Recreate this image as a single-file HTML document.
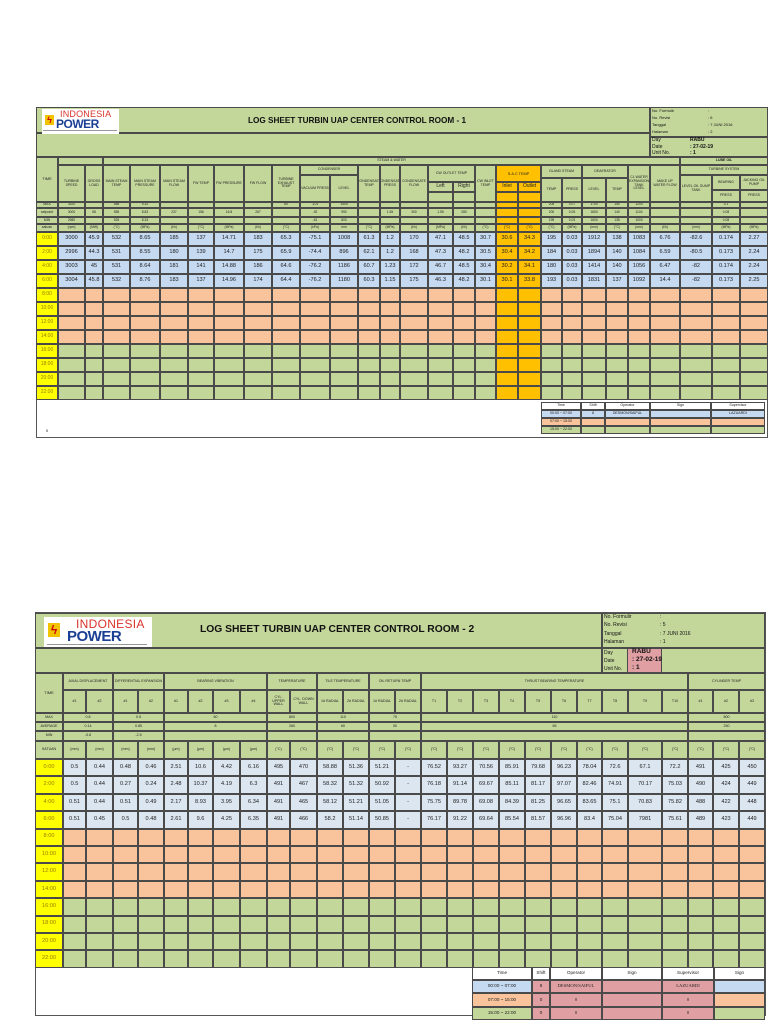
<!DOCTYPE html>
<html><head><meta charset="utf-8">
<style>
body{margin:0;width:768px;height:1024px;background:#fff;position:relative;overflow:hidden;font-family:"Liberation Sans",sans-serif;}
.c{position:absolute;box-sizing:border-box;border:0.6px solid #4a4a4a;display:flex;align-items:center;justify-content:center;text-align:center;line-height:1.05;color:#222;overflow:hidden;}
.t{position:absolute;white-space:nowrap;color:#111;}
.logo{position:absolute;background:#fff;}
</style></head><body>
<div class="c" style="left:36px;top:107px;width:732px;height:331px;background:#fff;border:1px solid #555"></div>
<div class="c" style="left:35px;top:612px;width:731px;height:404px;background:#fff;border:1px solid #555"></div>
<div id="root"></div>

<div class="logo" style="left:42px;top:109px;width:77px;height:25px">
 <div style="position:absolute;left:3px;top:6px;width:9px;height:10px;background:#f2c300;color:#c00;font-size:9px;font-weight:bold;line-height:10px;text-align:center">ϟ</div>
 <div style="position:absolute;left:18px;top:0px;font-size:9px;color:#d9342b;letter-spacing:0.2px">INDONESIA</div>
 <div style="position:absolute;left:14px;top:8px;font-size:12px;font-weight:bold;color:#1b3f94;letter-spacing:-0.5px">POWER</div>
 <div style="position:absolute;left:1px;top:21px;width:74px;height:1px;background:#999"></div>
</div>
<div class="logo" style="left:44px;top:617px;width:108px;height:30px">
 <div style="position:absolute;left:4px;top:6px;width:12px;height:14px;background:#f2c300;color:#c00;font-size:12px;font-weight:bold;line-height:14px;text-align:center">ϟ</div>
 <div style="position:absolute;left:32px;top:0px;font-size:12px;color:#d9342b;letter-spacing:0.3px">INDONESIA</div>
 <div style="position:absolute;left:23px;top:11px;font-size:15px;font-weight:bold;color:#1b3f94;letter-spacing:-0.5px">POWER</div>
 <div style="position:absolute;left:3px;top:27px;width:100px;height:1px;background:#999"></div>
</div>

<script>
const times = ['0:00','2:00','4:00','6:00','8:00','10:00','12:00','14:00','16:00','18:00','20:00','22:00'];
const sheet1Row0 = ['3000','45.9','532','8.65','185','137','14.71','183','65.3','-75.1','1008','61.3','1.2','170','47.1','48.5','30.7','30.6','34.3','195','0.03','1912','138','1083','6.76','-82.6','0.174','2.27'];
const sheet1Row2 = ['2996','44.3','531','8.55','180','139','14.7','175','65.9','-74.4','896','62.1','1.2','168','47.3','48.2','30.5','30.4','34.2','184','0.03','1894','140','1084','6.59','-80.5','0.173','2.24'];
const sheet1Row4 = ['3003','45','531','8.64','181','141','14.88','186','64.6','-76.2','1186','60.7','1.23','172','46.7','48.5','30.4','30.2','34.1','180','0.03','1414','140','1056','6.47','-82','0.174','2.24'];
const sheet1Row6 = ['3004','45.8','532','8.76','183','137','14.96','174','64.4','-76.2','1180','60.3','1.15','175','46.3','48.2','30.1','30.1','33.8','193','0.03','1831','137','1092','14.4','-82','0.173','2.25'];
const sheet1Max = ['3320','','566','9.32','','','','','80','-101','1500','','','','','','','','','205','0.07','1700','150','1200','','','0.1',''];
const sheet1Set = ['3000','58','555','8.83','237','156','16.8','267','','-92','950','','1.55','300','1.55','280','','','','200','0.05','1650','140','1100','','','0.08',''];
const sheet1Min = ['2980','','525','8.33','','','','','','-61','800','','','','','','','','','195','0.03','1600','135','1000','','','0.08',''];
const sheet1Units = ['(rpm)','(MW)','(°C)','(MPa)','(t/h)','(°C)','(MPa)','(t/h)','(°C)','(kPa)','mm','(°C)','(MPa)','(t/h)','(MPa)','(t/h)','(°C)','(°C)','(°C)','(°C)','(MPa)','(mm)','(°C)','(mm)','(t/h)','(mm)','(MPa)','(MPa)'];
const sheet2Row0 = ['0.5','0.44','0.48','0.46','2.51','10.6','4.42','6.16','495','470','58.88','51.36','51.21','-','76.52','93.27','70.56','85.91','79.68','96.23','78.04','72.6','67.1','72.2','491','425','450'];
const sheet2Row2 = ['0.5','0.44','0.27','0.24','2.48','10.37','4.19','6.3','491','467','58.32','51.32','50.92','-','76.18','91.14','69.67','85.11','81.17','97.07','82.46','74.91','70.17','75.03','490','424','449'];
const sheet2Row4 = ['0.51','0.44','0.51','0.49','2.17','8.93','3.95','6.34','491','465','58.12','51.21','51.05','-','75.75','89.78','69.08','84.39','81.25','96.65','83.65','75.1','70.83','75.82','488','422','448'];
const sheet2Row6 = ['0.51','0.45','0.5','0.48','2.61','9.6','4.25','6.35','491','466','58.2','51.14','50.85','-','76.17','91.22','69.64','85.54','81.57','96.96','83.4','75.04','7981','75.61','489','423','449'];
const sheet2Units = ['(mm)','(mm)','(mm)','(mm)','(μm)','(μm)','(μm)','(μm)','(°C)','(°C)','(°C)','(°C)','(°C)','(°C)','(°C)','(°C)','(°C)','(°C)','(°C)','(°C)','(°C)','(°C)','(°C)','(°C)','(°C)','(°C)','(°C)'];

const G='#c4d79b',B='#c5d9f1',B2='#dce6f1',O='#f9c49b',Y='#ffff00',S='#ffc000',P='#e0a0a3',W='#ffffff';
const root=document.getElementById('root');
function cell(x1,y1,x2,y2,txt,bg,fs,name,extra){
  const el=document.createElement('div');
  el.className='c';
  el.style.cssText='left:'+x1+'px;top:'+y1+'px;width:'+(x2-x1)+'px;height:'+(y2-y1)+'px;background:'+bg+';font-size:'+fs+'px;'+(extra||'');
  el.textContent=txt;
  
  
  root.appendChild(el);
  return el;
}
function text(x,y,txt,fs,name,extra){
  const el=document.createElement('div');
  el.className='t';
  el.style.cssText='left:'+x+'px;top:'+y+'px;font-size:'+fs+'px;'+(extra||'');
  el.textContent=txt;
  
  
  root.appendChild(el);
}

/* ---------- SHEET 1 ---------- */
const c1=[36,58,85,103,130,160,188,214,244,272,300,330,358,380,400,428,453,475,496,518,541,562,582,606,628,650,680,712,740,768];
cell(36,107,650,133,'',G,4,'sheet1-title-band');
cell(650,107,768,137,'',G,4,'sheet1-doc-info');
cell(36,133,650,157,'',G,4,'sheet1-blank-band');
cell(650,137,768,157,'',G,4,'sheet1-day-info');
text(248,116,'LOG SHEET TURBIN UAP CENTER CONTROL ROOM - 1',8.2,'sheet1-title','font-weight:bold');
[['No. Formulir',':'],['No. Revisi',': 6'],['Tanggal',': 7 JUNI 2016'],['Halaman',': 2']].forEach((r,i)=>{text(652,108+i*7,r[0],4,'sheet1-info-label');text(708,108+i*7,r[1],4,'sheet1-info-value');});
[['Day','RABU'],['Date',': 27-02-19'],['Unit No.',': 1']].forEach((r,i)=>{text(652,137+i*6.5,r[0],5,'sheet1-day-label');text(690,137+i*6.5,r[1],5,'sheet1-day-value','font-weight:bold');});
const hdr1=['TURBINE SPEED','GROSS LOAD','MAIN STEAM TEMP','MAIN STEAM PRESSURE','MAIN STEAM FLOW','FW TEMP','FW PRESSURE','FW FLOW','TURBINE EXHAUST TEMP','VACUUM PRESS','LEVEL','CONDENSATE TEMP','CONDENSATE PRESS','CONDENSATE FLOW','Left','Right','CW INLET TEMP','Inlet','Outlet','TEMP','PRESS','LEVEL','TEMP','CL WATER EXPANSION TANK LEVEL','MAKE UP WATER FLOW','LEVEL OIL SUMP TANK','BEARING','JACKING OIL PUMP'];
cell(36,157,58,202,'TIME',G,4,'sheet1-time-header');
cell(58,157,103,165,'',G,4,'sheet1-group-header');
cell(103,157,680,165,'STEAM & WATER',G,3.5,'sheet1-steam-water-header');
cell(680,157,768,165,'LUBE OIL',G,3.5,'sheet1-lube-oil-header','font-weight:bold');
cell(680,165,768,175,'TURBINE SYSTEM',G,3.5,'sheet1-turbine-system-header');
cell(300,165,358,175,'CONDENSER',G,3.5,'sheet1-condenser-header');
cell(428,165,475,182,'CW OUTLET TEMP',G,3.5,'sheet1-cw-outlet-header');
cell(496,165,541,182,'S.A.C   TEMP',S,3.8,'sheet1-sac-header');
cell(541,165,582,178,'GLAND STEAM',G,3.5,'sheet1-gland-header');
cell(582,165,628,178,'DEAERATOR',G,3.5,'sheet1-deaerator-header');
for(let i=0;i<28;i++){
  const x1=c1[i+1],x2=c1[i+2];
  let y1=165,y2=202,bg=G,fs=3.5;
  if(i>=9&&i<=10) y1=175;
  if(i>=14&&i<=15){y1=182;y2=192;fs=5;}
  if(i>=17&&i<=18){y1=182;y2=192;bg=S;fs=5;}
  if(i>=19&&i<=22) y1=178;
  if(i>=25) y1=175;
  if(i>=26){y2=190;}
  cell(x1,y1,x2,y2,hdr1[i],bg,fs,'sheet1-column-header');
  if(i>=14&&i<=18&&i!==16) cell(x1,192,x2,202,'',bg,3.5,'sheet1-column-subheader');
  if(i>=26) cell(x1,190,x2,202,'PRESS',G,3.5,'sheet1-column-subheader');
}
const rl1=[['MAX',202,208,sheet1Max],['setpoint',208,217,sheet1Set],['MIN',217,224,sheet1Min],['satuan',224,232,sheet1Units]];
rl1.forEach(r=>{
  cell(36,r[1],58,r[2],r[0],G,3.5,'sheet1-limit-label');
  for(let i=0;i<28;i++){cell(c1[i+1],r[1],c1[i+2],r[2],r[3][i],(i===17||i===18)?S:G,3.3,'sheet1-limit-cell');}
});
const data1=[sheet1Row0,sheet1Row2,sheet1Row4,sheet1Row6];
times.forEach((t,j)=>{
  const y1=232+j*14,y2=y1+14;
  const bg=j<4?B:(j<8?O:G);
  cell(36,y1,58,y2,t,Y,5,'sheet1-time-cell','color:#9a7b00');
  for(let i=0;i<28;i++){
    cell(c1[i+1],y1,c1[i+2],y2,j<4?data1[j][i]:'',(i===17||i===18)?S:bg,5.6,'sheet1-data-cell');
  }
});
const sx1=[541,581,605,650,711,765];
const sh1=['Time','Shift','Operator','Sign','Supervisor'];
sh1.forEach((h,i)=>cell(sx1[i],402,sx1[i+1],410,h,W,3.6,'sheet1-sign-header'));
[['00:00 ~ 07:00','8','DESMON/SAIFUL','','LAZUARDI',B],['07:00 ~ 15:00','','','','',O],['15:00 ~ 22:00','','','','',G]].forEach((r,j)=>{
  for(let i=0;i<5;i++) cell(sx1[i],410+j*8,sx1[i+1],418+j*8,r[i],r[5],3.6,'sheet1-sign-cell');
});
text(46,428,'0',4,'sheet1-footer-zero');

/* ---------- SHEET 2 ---------- */
const c2=[35,63,86,113,138,164,188,213,240,267,290,317,343,369,395,421,447,473,499,525,551,577,602,628,662,688,713,739,765];
cell(35,613,602,648,'',G,4,'sheet2-title-band');
cell(602,613,765,648,'',G,4,'sheet2-doc-info');
cell(35,648,602,673,'',G,4,'sheet2-blank-band');
cell(602,648,765,673,'',G,4,'sheet2-day-info');
text(200,624,'LOG SHEET TURBIN UAP CENTER CONTROL ROOM - 2',10.3,'sheet2-title','font-weight:bold');
[['No. Formulir',':'],['No. Revisi',': 5'],['Tanggal',': 7 JUNI 2016'],['Halaman',': 1']].forEach((r,i)=>{text(604,614+i*8.3,r[0],5,'sheet2-info-label');text(660,614+i*8.3,r[1],5,'sheet2-info-value');});
cell(627,648,662,673,'',P,4,'sheet2-day-highlight');
[['Day','RABU'],['Date',': 27-02-19'],['Unit No.',': 1']].forEach((r,i)=>{text(604,650+i*8,r[0],5,'sheet2-day-label');text(632,648+i*8,r[1],6.5,'sheet2-day-value','font-weight:bold');});
cell(35,673,63,713,'TIME',G,4,'sheet2-time-header');
const grp2=[['AXIAL DISPLACEMENT',63,113],['DIFFERENTIAL EXPANSION',113,164],['BEARING VIBRATION',164,267],['TEMPERATURE',267,317],['TILE TEMPERATURE',317,369],['OIL RETURN TEMP',369,421],['THRUST BEARING TEMPERATURE',421,688],['CYLINDER TEMP',688,765]];
grp2.forEach(g=>cell(g[1],673,g[2],690,g[0],G,3.6,'sheet2-group-header'));
const hdr2=['#1','#2','#1','#2','#1','#2','#3','#4','CYL. UPPER WALL','CYL. DOWN WALL','1# RADIAL','2# RADIAL','1# RADIAL','2# RADIAL','T1','T2','T3','T4','T5','T6','T7','T8','T9','T10','#1','#2','#3'];
hdr2.forEach((h,i)=>cell(c2[i+1],690,c2[i+2],713,h,G,3.6,'sheet2-column-header'));
const maxG=['0.8','0.5','60','800','110','75','110','800'],avgG=['0.14','0.85','8','260','60','50','65','250'],minG=['-0.8','-2.5','','','','','',''];
[['MAX',713,722,maxG],['AVERAGE',722,731,avgG],['MIN',731,741,minG]].forEach(r=>{
  cell(35,r[1],63,r[2],r[0],G,3.6,'sheet2-limit-label');
  grp2.forEach((g,k)=>cell(g[1],r[1],g[2],r[2],r[3][k],G,3.6,'sheet2-limit-cell'));
});
cell(35,741,63,759,'SATUAN',G,3.6,'sheet2-units-label');
sheet2Units.forEach((u,i)=>cell(c2[i+1],741,c2[i+2],759,u,G,3.6,'sheet2-units-cell'));
const data2=[sheet2Row0,sheet2Row2,sheet2Row4,sheet2Row6];
times.forEach((t,j)=>{
  const y1=759+j*17.4,y2=y1+17.4;
  const bg=j<4?B2:(j<8?O:G);
  cell(35,y1,63,y2,t,Y,5.6,'sheet2-time-cell','color:#9a7b00');
  for(let i=0;i<27;i++) cell(c2[i+1],y1,c2[i+2],y2,j<4?data2[j][i]:'',bg,5.6,'sheet2-data-cell');
});
const sx2=[472,532,550,602,662,714,765];
['Time','Shift','Operator','Sign','Supervisor','Sign'].forEach((h,i)=>cell(sx2[i],967,sx2[i+1],980,h,W,4.6,'sheet2-sign-header'));
[['00:00 ~ 07:00','8','DESMON/SAIFUL','','LAZUARDI','',B],['07:00 ~ 15:00','0','0','','0','',O],['15:00 ~ 22:00','0','0','','0','',G]].forEach((r,j)=>{
  for(let i=0;i<6;i++){
    const bg=(i===0||i===5)?r[6]:P;
    cell(sx2[i],980+j*13.3,sx2[i+1],993.3+j*13.3,r[i],bg,4.6,'sheet2-sign-cell',i===2||i===4?'font-family:"Liberation Serif",serif':'');
  }
});
</script>
</body></html>
